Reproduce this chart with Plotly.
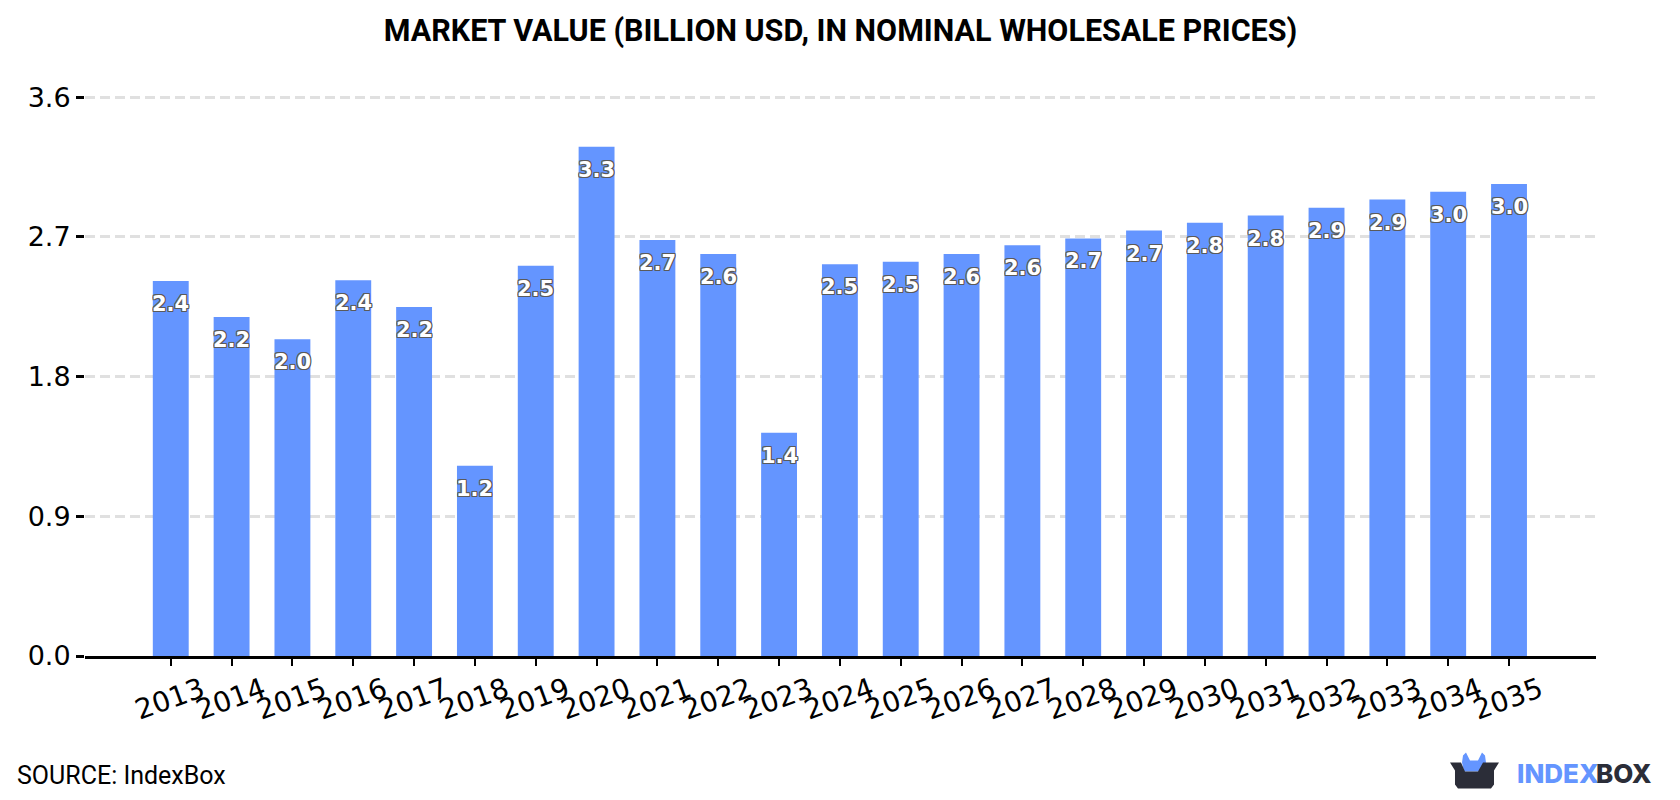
import plotly.graph_objects as go

# Market value series, billion USD
years = [str(y) for y in [2013, 2014, 2015, 2016, 2017, 2018, 2019, 2020, 2021, 2022, 2023, 2024,
                          2025, 2026, 2027, 2028, 2029, 2030, 2031, 2032, 2033, 2034, 2035]]
market_value = [2.415, 2.183, 2.04, 2.42, 2.248, 1.225, 2.513, 3.28, 2.68, 2.59, 1.438, 2.524,
                2.54, 2.59, 2.645, 2.69, 2.74, 2.79, 2.837, 2.888, 2.94, 2.99, 3.04]
y_ticks = [0.0, 0.9, 1.8, 2.7, 3.6]

TITLE = "MARKET VALUE (BILLION USD, IN NOMINAL WHOLESALE PRICES)"
SOURCE = "SOURCE: IndexBox"

W, H = 1680, 800
PLOT_L, PLOT_R, PLOT_T, PLOT_B = 85, 1596, 93.6, 656.3
BLUE = "#6495ff"
DARK = "#2b2d38"
OUTLINE = "#5a5a5a"
halo = ", ".join(f"{dx}px {dy}px 0px {OUTLINE}" for dx, dy in
                 [(-1, -1), (1, -1), (-1, 1), (1, 1), (0, 1), (0, -1), (1, 0), (-1, 0)])


# Convert page pixels to fractions of the plot area
def fx(v):
    return (v - PLOT_L) / (PLOT_R - PLOT_L)


def fy(v):
    return (PLOT_B - v) / (PLOT_B - PLOT_T)


def page_path(points):
    return "M" + " L".join(f"{fx(x):.5f},{fy(y):.5f}" for x, y in points) + " Z"


fig = go.Figure()
fig.add_bar(
    x=years,
    y=market_value,
    marker=dict(color=BLUE, line=dict(width=0)),
    width=0.59,
    hoverinfo="x+y",
)

# Value labels sit a fixed distance below each bar top; category annotations take the serial index
for index, value in enumerate(market_value):
    fig.add_annotation(
        x=index, y=value, yshift=-23, text=f"<b>{value:.1f}</b>", showarrow=False,
        xanchor="center", yanchor="middle",
        font=dict(family="DejaVu Sans", size=21, color="white", shadow=halo),
    )

fig.update_layout(
    width=W,
    height=H,
    autosize=False,
    paper_bgcolor="white",
    plot_bgcolor="white",
    showlegend=False,
    margin=dict(l=PLOT_L, r=W - PLOT_R, t=PLOT_T, b=H - PLOT_B, pad=0),
    title=dict(
        text=f"<b>{TITLE}</b>",
        font=dict(family="Roboto", size=30.5, color="black"),
        x=0.5,
        xanchor="center",
        xref="paper",
        y=1 - 30 / H,
        yanchor="middle",
    ),
    xaxis=dict(
        type="category",
        range=[-1.41, 23.43],
        showgrid=False,
        showline=True,
        linecolor="black",
        linewidth=3,
        ticks="outside",
        ticklen=7,
        tickwidth=2,
        tickcolor="black",
        tickangle=-20,
        ticklabelshift=31,
        ticklabelstandoff=-3,
        tickfont=dict(family="DejaVu Sans", size=28, color="black"),
    ),
    yaxis=dict(
        range=[0, 3.62],
        tickvals=y_ticks,
        ticktext=[f"{t:.1f}" for t in y_ticks],
        ticks="outside",
        ticklen=8,
        tickwidth=3,
        tickcolor="black",
        tickfont=dict(family="DejaVu Sans", size=27, color="black"),
        showline=False,
        zeroline=False,
        showgrid=True,
        gridcolor="#e0e0e0",
        gridwidth=2.5,
        griddash="10px,5px",
    ),
    shapes=[
        # Box-shaped brand mark
        dict(type="path", xref="paper", yref="paper", layer="above", line=dict(width=0), fillcolor=BLUE,
             path=page_path([(1462, 763), (1463, 756), (1466, 753), (1470, 761), (1478, 761), (1482, 753),
                             (1485, 756), (1486, 763), (1482, 772), (1464, 772)])),
        dict(type="path", xref="paper", yref="paper", layer="above", line=dict(width=0), fillcolor=DARK,
             path=page_path([(1450, 763), (1461, 763), (1465, 772), (1478, 772), (1483, 763), (1499, 763),
                             (1494, 771), (1494, 785), (1491, 789), (1458, 789), (1455, 785), (1455, 771)])),
    ],
)

fig.add_annotation(text=SOURCE, xref="paper", yref="paper", x=fx(15), y=fy(776),
                   xanchor="left", yanchor="middle", showarrow=False,
                   font=dict(family="Roboto", size=25, color="black"))
fig.add_annotation(text="INDEX", xref="paper", yref="paper", x=fx(1515), y=fy(774),
                   xanchor="left", yanchor="middle", showarrow=False,
                   font=dict(family="Inter", size=26, color=BLUE, weight=800))
fig.add_annotation(text="BOX", xref="paper", yref="paper", x=fx(1594), y=fy(774),
                   xanchor="left", yanchor="middle", showarrow=False,
                   font=dict(family="Inter", size=26, color=DARK, weight=800))

fig.write_html("out.html")
